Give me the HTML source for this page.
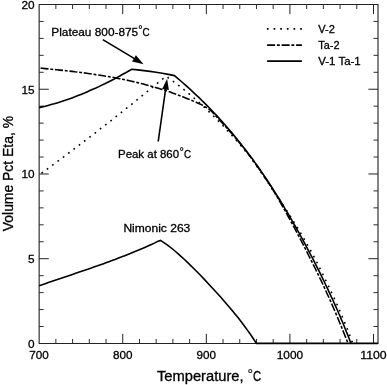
<!DOCTYPE html>
<html><head><meta charset="utf-8"><title>Volume Pct Eta vs Temperature</title>
<style>
html,body{margin:0;padding:0;background:#fff;}
svg{display:block;font-family:"Liberation Sans","DejaVu Sans",sans-serif;}
text{fill:#000;stroke:#000;stroke-width:0.3px;}
.ax{fill:none;stroke:#222;stroke-width:1.1;}
.c{fill:none;stroke:#000;stroke-width:1.6;stroke-linejoin:miter;}
.tl{font-size:11.8px;stroke:none;}
.an{font-size:11.5px;stroke-width:0.1px;}
.tt{font-size:13.8px;stroke-width:0.1px;}
</style></head><body>
<svg width="387" height="385" viewBox="0 0 387 385">
<rect width="387" height="385" fill="#fff"/>
<path class="ax" d="M39.15 4.50H378.00V343.45H39.15Z"/>
<path class="ax" style="stroke-width:1.0" d="M122.74 343.45v-9.60M122.74 4.50v9.60M206.33 343.45v-9.60M206.33 4.50v9.60M289.91 343.45v-9.60M289.91 4.50v9.60M373.50 343.45v-9.60M373.50 4.50v9.60M39.15 258.71h9.60M378.00 258.71h-9.60M39.15 173.97h9.60M378.00 173.97h-9.60M39.15 89.24h9.60M378.00 89.24h-9.60"/>
<path class="ax" style="stroke-width:1.0;stroke:#2e2e2e" d="M55.87 343.45v-4.50M55.87 4.50v4.50M72.59 343.45v-4.50M72.59 4.50v4.50M89.30 343.45v-4.50M89.30 4.50v4.50M106.02 343.45v-4.50M106.02 4.50v4.50M139.46 343.45v-4.50M139.46 4.50v4.50M156.17 343.45v-4.50M156.17 4.50v4.50M172.89 343.45v-4.50M172.89 4.50v4.50M189.61 343.45v-4.50M189.61 4.50v4.50M223.04 343.45v-4.50M223.04 4.50v4.50M239.76 343.45v-4.50M239.76 4.50v4.50M256.48 343.45v-4.50M256.48 4.50v4.50M273.19 343.45v-4.50M273.19 4.50v4.50M306.63 343.45v-4.50M306.63 4.50v4.50M323.35 343.45v-4.50M323.35 4.50v4.50M340.06 343.45v-4.50M340.06 4.50v4.50M356.78 343.45v-4.50M356.78 4.50v4.50M39.15 326.50h4.50M378.00 326.50h-4.50M39.15 309.56h4.50M378.00 309.56h-4.50M39.15 292.61h4.50M378.00 292.61h-4.50M39.15 275.66h4.50M378.00 275.66h-4.50M39.15 241.76h4.50M378.00 241.76h-4.50M39.15 224.82h4.50M378.00 224.82h-4.50M39.15 207.87h4.50M378.00 207.87h-4.50M39.15 190.92h4.50M378.00 190.92h-4.50M39.15 157.03h4.50M378.00 157.03h-4.50M39.15 140.08h4.50M378.00 140.08h-4.50M39.15 123.13h4.50M378.00 123.13h-4.50M39.15 106.18h4.50M378.00 106.18h-4.50M39.15 72.29h4.50M378.00 72.29h-4.50M39.15 55.34h4.50M378.00 55.34h-4.50M39.15 38.40h4.50M378.00 38.40h-4.50M39.15 21.45h4.50M378.00 21.45h-4.50"/>
<g class="tl"><text x="39.1" y="359.3" text-anchor="middle" textLength="19.5" lengthAdjust="spacingAndGlyphs">700</text><text x="122.7" y="359.3" text-anchor="middle" textLength="19.5" lengthAdjust="spacingAndGlyphs">800</text><text x="206.3" y="359.3" text-anchor="middle" textLength="19.5" lengthAdjust="spacingAndGlyphs">900</text><text x="289.9" y="359.3" text-anchor="middle" textLength="26.4" lengthAdjust="spacingAndGlyphs">1000</text><text x="373.5" y="359.3" text-anchor="middle" textLength="26.4" lengthAdjust="spacingAndGlyphs">1100</text><text x="34.5" y="347.8" text-anchor="end">0</text><text x="34.5" y="263.1" text-anchor="end">5</text><text x="34.5" y="178.4" text-anchor="end">10</text><text x="34.5" y="93.6" text-anchor="end">15</text><text x="34.5" y="8.9" text-anchor="end">20</text></g>
<path class="c" d="M39.1 285.8L42.2 284.7L45.2 283.7L48.3 282.6L51.3 281.6L54.3 280.5L57.4 279.5L60.4 278.5L63.4 277.4L66.5 276.4L69.5 275.4L72.5 274.4L75.6 273.3L78.6 272.3L81.6 271.3L84.7 270.3L87.7 269.3L90.7 268.2L93.8 267.1L96.8 266.1L99.8 265.0L102.9 263.9L105.9 262.8L108.9 261.7L112.0 260.5L115.0 259.4L118.0 258.2L121.1 257.1L124.1 255.9L127.1 254.7L130.2 253.5L133.2 252.2L136.2 251.0L139.3 249.7L142.3 248.5L145.3 247.2L148.4 245.8L151.4 244.5L154.4 243.1L157.5 241.6L160.5 240.4L163.5 242.3L166.5 244.4L169.5 246.6L172.5 249.0L175.5 251.5L178.5 254.1L181.5 256.8L184.5 259.5L187.5 262.4L190.5 265.3L193.5 268.3L196.5 271.3L199.5 274.3L202.5 277.4L205.5 280.6L208.4 283.8L211.4 287.0L214.4 290.2L217.4 293.5L220.4 296.8L223.4 300.2L226.4 303.7L229.4 307.2L232.4 310.7L235.4 314.4L238.4 318.1L241.4 322.0L244.4 326.0L247.4 330.1L250.4 334.3L253.4 338.7L256.4 343.4L378.0 343.4"/>
<path class="c" d="M39.1 107.6L42.1 106.9L45.1 106.2L48.1 105.4L51.1 104.6L54.1 103.8L57.1 102.9L60.0 102.0L63.0 101.0L66.0 100.0L69.0 99.0L72.0 97.9L75.0 96.8L78.0 95.6L80.9 94.4L83.9 93.2L86.9 91.9L89.9 90.6L92.9 89.3L95.9 88.0L98.9 86.6L101.8 85.1L104.8 83.7L107.8 82.2L110.8 80.7L113.8 79.2L116.8 77.6L119.8 76.0L122.7 74.3L125.7 72.7L128.7 71.0L131.7 69.3L137.8 69.9L143.9 70.6L150.0 71.4L156.1 72.3L162.2 73.3L168.3 74.4L174.4 75.6L177.4 78.1L180.2 80.5L183.1 83.0L185.8 85.4L188.6 87.9L191.3 90.3L193.9 92.8L196.5 95.3L199.1 97.7L201.6 100.2L204.1 102.6L206.6 105.1L209.0 107.5L211.4 110.0L213.7 112.5L216.0 114.9L218.3 117.4L220.5 119.8L222.7 122.3L224.9 124.7L227.1 127.2L229.2 129.7L231.3 132.1L233.3 134.6L235.3 137.0L237.3 139.5L239.3 141.9L241.3 144.4L243.2 146.9L245.1 149.3L247.0 151.8L248.8 154.2L250.7 156.7L252.5 159.1L254.3 161.6L256.0 164.1L257.8 166.5L259.5 169.0L261.2 171.4L262.9 173.9L264.6 176.4L266.2 178.8L267.9 181.3L269.5 183.7L271.1 186.2L272.7 188.6L274.2 191.1L275.8 193.6L277.3 196.0L278.9 198.5L280.4 200.9L281.9 203.4L283.4 205.8L284.8 208.3L286.3 210.8L287.8 213.2L289.2 215.7L290.6 218.1L292.0 220.6L293.4 223.0L294.8 225.5L296.2 228.0L297.6 230.4L299.0 232.9L300.3 235.3L301.7 237.8L303.0 240.2L304.3 242.7L305.6 245.2L306.9 247.6L308.2 250.1L309.5 252.5L310.8 255.0L312.1 257.4L313.4 259.9L314.6 262.4L315.9 264.8L317.1 267.3L318.3 269.7L319.6 272.2L320.8 274.6L322.0 277.1L323.2 279.6L324.4 282.0L325.5 284.5L326.7 286.9L327.9 289.4L329.0 291.8L330.2 294.3L331.3 296.8L332.5 299.2L333.6 301.7L334.7 304.1L335.8 306.6L336.9 309.0L338.0 311.5L339.0 314.0L340.1 316.4L341.1 318.9L342.2 321.3L343.2 323.8L344.2 326.2L345.2 328.7L346.2 331.2L347.2 333.6L348.2 336.1L349.1 338.5L350.1 341.0L351.0 343.4"/>
<path class="c" stroke-dasharray="8.0 1.8 2.9 1.8" stroke-dashoffset="13.0" d="M39.1 68.0L42.1 68.3L45.1 68.6L48.1 68.9L51.1 69.2L54.0 69.5L57.0 69.8L60.0 70.1L63.0 70.4L66.0 70.7L68.9 71.1L71.9 71.4L74.9 71.8L77.9 72.1L80.9 72.5L83.8 72.9L86.8 73.3L89.8 73.7L92.8 74.1L95.8 74.6L98.7 75.0L101.7 75.5L104.7 76.0L107.7 76.5L110.6 77.0L113.6 77.5L116.6 78.1L119.6 78.7L122.6 79.3L125.5 79.9L128.5 80.5L131.5 81.2L134.5 81.9L137.5 82.6L140.4 83.3L143.4 84.1L146.4 84.9L149.4 85.7L152.4 86.5L155.3 87.4L158.3 88.3L161.3 89.2L164.3 90.1L167.3 91.1L170.2 92.1L173.2 93.2L176.2 94.2L179.2 95.4L182.1 96.5L185.1 97.7L188.1 98.9L191.1 100.1L194.1 101.4L197.0 102.7L200.0 104.1L203.0 105.4L210.2 110.0L213.1 113.0L215.9 116.0L218.7 119.0L221.4 122.0L224.1 125.0L226.8 128.0L229.5 131.0L232.1 134.0L234.7 137.0L237.3 140.0L239.7 143.0L242.1 146.0L244.5 149.0L246.8 152.0L249.1 155.0L251.3 158.0L253.5 161.0L255.6 164.0L257.8 167.0L259.9 170.0L261.9 173.0L264.0 176.0L266.0 179.0L268.0 182.0L269.9 185.0L271.9 188.0L273.7 191.0L275.5 194.0L277.3 197.0L279.0 200.0L280.7 203.0L282.4 206.0L284.1 209.0L285.8 212.0L287.4 215.0L289.1 218.0L290.7 221.0L292.3 224.0L294.0 227.0L295.5 230.0L297.1 233.0L298.7 236.0L300.3 239.0L301.8 242.0L303.4 245.0L304.9 248.0L306.4 251.0L307.9 254.0L309.4 257.0L311.0 260.0L312.5 263.0L314.0 266.0L315.5 269.0L316.9 272.0L318.4 275.0L319.8 278.0L321.3 281.0L322.7 284.0L324.1 287.0L325.5 290.0L326.8 293.0L328.2 296.0L329.6 299.0L330.9 302.0L332.2 305.0L333.5 308.0L334.8 311.0L336.1 314.0L337.3 317.0L338.6 320.0L339.8 323.0L341.1 326.0L342.3 329.0L343.5 332.0L344.7 335.0L345.9 338.0L347.1 341.0L348.1 343.4"/>
<path class="c" stroke-dasharray="1.7 4.95" stroke-dashoffset="3.75" d="M39.1 174.9L42.2 172.7L45.2 170.5L48.2 168.3L51.3 166.0L54.3 163.8L57.3 161.6L60.4 159.3L63.4 157.1L66.4 154.8L69.4 152.5L72.5 150.2L75.5 147.9L78.5 145.7L81.6 143.3L84.6 141.0L87.6 138.7L90.7 136.4L93.7 134.1L96.7 131.7L99.7 129.4L102.8 127.0L105.8 124.7L108.8 122.3L111.9 119.9L114.9 117.5L117.9 115.1L121.0 112.7L124.0 110.3L127.0 107.9L130.0 105.5L133.1 103.1L136.1 100.6L139.1 98.2L142.2 95.7L145.2 93.3L148.2 90.8L151.3 88.3L154.3 85.8L157.3 83.3L160.3 80.8L163.4 78.3L166.4 76.3L169.4 78.7L172.4 80.9L175.5 83.1L178.5 85.4L181.5 87.7L184.5 90.1L187.5 92.6L190.6 95.1L193.6 97.7L196.6 100.3L199.6 103.0L202.6 105.7L205.7 108.6L208.7 111.4L211.7 114.3L214.7 117.3L217.7 120.4L220.7 123.5L223.8 126.6L226.8 129.9L229.8 133.1L232.8 136.5L235.8 139.9L238.9 143.3L241.9 146.9L244.9 150.4L248.1 154.0L250.3 157.0L252.4 160.0L254.5 163.0L256.6 166.0L258.7 169.0L260.8 172.0L262.9 175.0L264.9 178.0L266.9 181.0L268.9 184.0L270.9 187.0L272.8 190.0L274.9 193.0L277.0 196.0L279.0 199.0L281.0 202.0L283.0 205.0L284.9 208.0L286.9 211.0L288.8 214.0L290.7 217.0L292.6 220.0L294.5 223.0L296.3 226.0L298.2 229.0L300.0 232.0L301.7 235.0L303.5 238.0L305.2 241.0L306.9 244.0L308.6 247.0L310.3 250.0L312.0 253.0L313.6 256.0L315.2 259.0L316.7 262.0L318.2 265.0L319.7 268.0L321.2 271.0L322.7 274.0L324.2 277.0L325.6 280.0L327.1 283.0L328.5 286.0L329.9 289.0L331.3 292.0L332.7 295.0L334.1 298.0L335.5 301.0L336.8 304.0L338.1 307.0L339.4 310.0L340.7 313.0L342.0 316.0L343.2 319.0L344.5 322.0L345.7 325.0L346.9 328.0L348.1 331.0L349.3 334.0L350.4 337.0L351.5 340.0L352.6 343.0L352.8 343.4"/>
<g class="c">
<path d="M266.9 28.9H302" stroke-dasharray="1.7 4.95"/>
<path d="M267.1 45.1H301.9" stroke-dasharray="8.0 1.8 2.9 1.8"/>
<path d="M267.1 61.1H301.9"/>
</g>
<path class="c" d="M102.8 39.6L134.9 58.9"/><path d="M143.6 64.2L132.1 61.5L135.9 55.2Z" fill="#000"/>
<path class="c" d="M158.2 141.5L165.7 88.6"/><path d="M167.1 78.7L168.9 90.1L162.2 89.1Z" fill="#000"/>
<g class="an">
<text y="36"><tspan x="51.3" textLength="86.9" lengthAdjust="spacingAndGlyphs">Plateau 800-875</tspan><tspan x="138.2" y="33.0" font-size="10.8px" stroke-width="0.25">°</tspan><tspan x="142.6" y="36" textLength="7.1" lengthAdjust="spacingAndGlyphs">C</tspan></text>
<text y="157.6"><tspan x="118" textLength="61.1" lengthAdjust="spacingAndGlyphs">Peak at 860</tspan><tspan x="179.6" y="154.7" font-size="10.8px" stroke-width="0.25">°</tspan><tspan x="184.1" y="157.6" textLength="7.1" lengthAdjust="spacingAndGlyphs">C</tspan></text>
<text x="123.4" y="231.8" textLength="66.9" lengthAdjust="spacingAndGlyphs">Nimonic 263</text>
<text x="318.3" y="33.2" textLength="16.5" lengthAdjust="spacingAndGlyphs">V-2</text>
<text x="318.3" y="49.2" textLength="21.2" lengthAdjust="spacingAndGlyphs">Ta-2</text>
<text x="318.3" y="65.1" textLength="42.4" lengthAdjust="spacingAndGlyphs">V-1 Ta-1</text>
</g>
<g class="tt">
<text y="381.1"><tspan x="157.0" textLength="86.6" lengthAdjust="spacingAndGlyphs">Temperature,</tspan><tspan> </tspan><tspan x="247.4" y="378.9" font-size="14px" stroke-width="0.15">°</tspan><tspan x="253.0" y="381.1" textLength="8.2" lengthAdjust="spacingAndGlyphs">C</tspan></text>
<text transform="translate(12.9 231.2) rotate(-90)" textLength="115.2" lengthAdjust="spacingAndGlyphs">Volume Pct Eta, %</text>
</g>
</svg>
</body></html>
